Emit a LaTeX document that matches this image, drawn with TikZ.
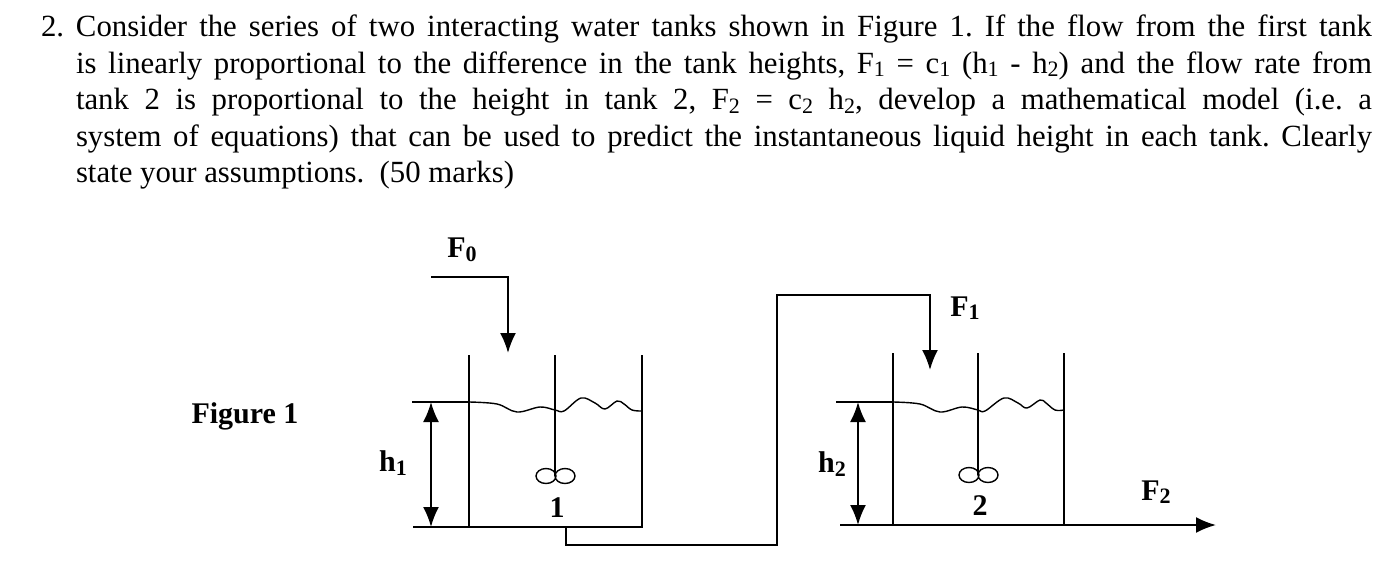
\documentclass[tikz,border=0pt]{standalone}
\usepackage{fontspec}
\setmainfont{Liberation Serif}
\newcommand{\sbx}[1]{\raisebox{-0.12em}{\fontsize{22}{22}\selectfont #1}}
\begin{document}
\begin{tikzpicture}[x=1pt,y=-1pt,line width=2pt,
  lbl/.style={font=\fontsize{30}{30}\selectfont\bfseries,inner sep=0},
  arr/.style={-{Latex[length=20pt,width=16pt]}}]
\useasboundingbox (0,0) rectangle (1396,570);
\usetikzlibrary{arrows.meta}
\node[anchor=north west,text width=1296pt,align=justify,inner sep=0,font=\fontsize{30.8}{36.5}\selectfont\frenchspacing] (txt) at (75,14)
{\llap{\makebox[35pt][l]{2.}}Consider the series of two interacting water tanks shown in Figure 1. If the flow from the first tank\linebreak is linearly proportional to the difference in the tank heights, F\sbx{1} = c\sbx{1} (h\sbx{1} - h\sbx{2}) and the flow rate from\linebreak tank 2 is proportional to the height in tank 2, F\sbx{2} = c\sbx{2} h\sbx{2}, develop a mathematical model (i.e. a\linebreak system of equations) that can be used to predict the instantaneous liquid height in each tank. Clearly\linebreak state your assumptions.\ \ (50 marks)};
\node[lbl] (fig) at (245,416) {Figure 1};
% tank 1
\draw (469,355) -- (469,527) -- (642,527) -- (642,355);
\draw[line width=1.4pt] (555,355) -- (555,476);
\draw[line width=1.4pt] (546,476) ellipse (10 and 7.5) (565,476) ellipse (10 and 7.5);
\draw[line width=1.4pt] plot[smooth,tension=0.6] coordinates {(469,402) (497,404) (517,412) (540,407) (555,410) (564,411) (581,398) (595,403) (605,409) (617,401) (624,404) (632,410) (642,411)};
\draw[line width=1.4pt] (412,402) -- (469,402);
\draw (413,527) -- (469,527);
\draw[{Latex[length=20pt,width=16pt]}-{Latex[length=20pt,width=16pt]}] (431,402) -- (431,527);
\node[lbl] (h1) at (393,463) {h\sbx{1}};
\node[lbl] (n1) at (557,508) {1};
\coordinate (f0s) at (431,277);
\coordinate (f0e) at (508,353);
\draw[arr] (f0s) -| (f0e);
\node[lbl] (F0) at (462,250) {F\sbx{0}};
% pipe
\coordinate (p0) at (566,527);
\coordinate (p1) at (777,545);
\coordinate (p2) at (930,370);
\draw[arr] (p0) |- (p1) -- (777,295) -| (p2);
\node[lbl] (F1) at (965,308) {F\sbx{1}};
% tank 2
\draw (893,353) -- (893,525) -- (1064,525) -- (1064,353);
\draw[line width=1.4pt] (978,353) -- (978,475);
\draw[line width=1.4pt] (969,475) ellipse (10 and 7.5) (988,475) ellipse (10 and 7.5);
\draw[line width=1.4pt] plot[smooth,tension=0.6] coordinates {(893,402) (920,404) (940,412) (962,407) (978,410) (985,411) (1004,398) (1018,403) (1027,408) (1040,400) (1046,403) (1055,410) (1064,410)};
\draw[line width=1.4pt] (836,402) -- (893,402);
\draw (840,525) -- (893,525);
\draw[{Latex[length=20pt,width=16pt]}-{Latex[length=20pt,width=16pt]}] (858,402) -- (858,525);
\node[lbl] (h2) at (832,464) {h\sbx{2}};
\node[lbl] (n2) at (980,506) {2};
\coordinate (o0) at (1064,525);
\coordinate (o1) at (1216,525);
\draw[arr] (o0) -- (o1);
\node[lbl] (F2) at (1156,492) {F\sbx{2}};
\end{tikzpicture}
\end{document}
